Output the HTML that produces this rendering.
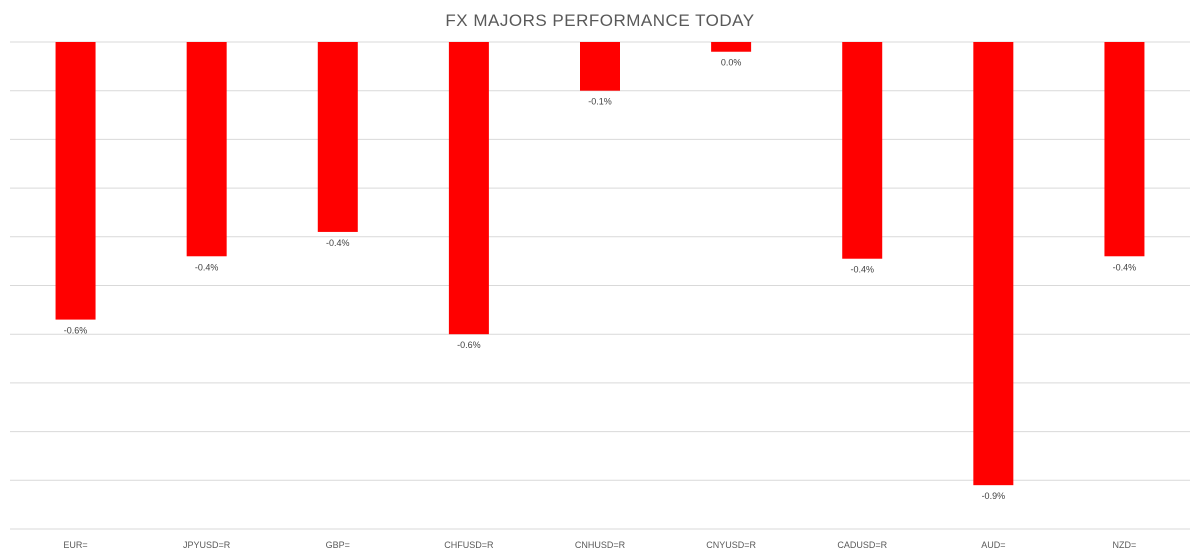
<!DOCTYPE html>
<html><head><meta charset="utf-8"><style>
body{margin:0;background:#fff;width:1200px;height:555px;overflow:hidden;font-family:"Liberation Sans",sans-serif}
</style></head><body>
<svg width="1200" height="555">
<text x="600" y="26" text-anchor="middle" font-size="17" fill="#595959" letter-spacing="0.5">FX MAJORS PERFORMANCE TODAY</text>
<g id="grid"></g><g id="bars"></g><g id="labels"></g>
</svg>
<script>
const categories=["EUR=","JPYUSD=R","GBP=","CHFUSD=R","CNHUSD=R","CNYUSD=R","CADUSD=R","AUD=","NZD="];
const values=[-0.57,-0.44,-0.39,-0.60,-0.10,-0.02,-0.445,-0.91,-0.44];
const valueLabels=["-0.6%","-0.4%","-0.4%","-0.6%","-0.1%","0.0%","-0.4%","-0.9%","-0.4%"];
const gridTicks=[0,-0.1,-0.2,-0.3,-0.4,-0.5,-0.6,-0.7,-0.8,-0.9,-1.0];
const NS="http://www.w3.org/2000/svg";
const left=10,right=1190,top0=42,unitPx=487;
const y=v=>top0-v*unitPx;
const band=(right-left)/categories.length;
const x=i=>left+band*(i+0.5);
const grid=document.getElementById('grid'),bars=document.getElementById('bars'),labels=document.getElementById('labels');
gridTicks.forEach(t=>{const l=document.createElementNS(NS,'line');
l.setAttribute('x1',left);l.setAttribute('x2',right);l.setAttribute('y1',y(t));l.setAttribute('y2',y(t));
l.setAttribute('stroke','#d9d9d9');l.setAttribute('stroke-width','1');


grid.appendChild(l);});
values.forEach((v,i)=>{const r=document.createElementNS(NS,'rect');
const y0=y(0),y1=y(v);
r.setAttribute('x',x(i)-20);r.setAttribute('width',40);r.setAttribute('y',Math.min(y0,y1));r.setAttribute('height',Math.abs(y1-y0));
r.setAttribute('fill','#ff0000');


bars.appendChild(r);
const t=document.createElementNS(NS,'text');
t.setAttribute('x',x(i));t.setAttribute('y',y1+14);t.setAttribute('text-anchor','middle');
t.setAttribute('font-size','9');t.setAttribute('fill','#404040');t.textContent=valueLabels[i];


labels.appendChild(t);
const c=document.createElementNS(NS,'text');
c.setAttribute('x',x(i));c.setAttribute('y',548);c.setAttribute('text-anchor','middle');
c.setAttribute('font-size','9');c.setAttribute('fill','#595959');c.textContent=categories[i];


labels.appendChild(c);});
</script>
</body></html>
